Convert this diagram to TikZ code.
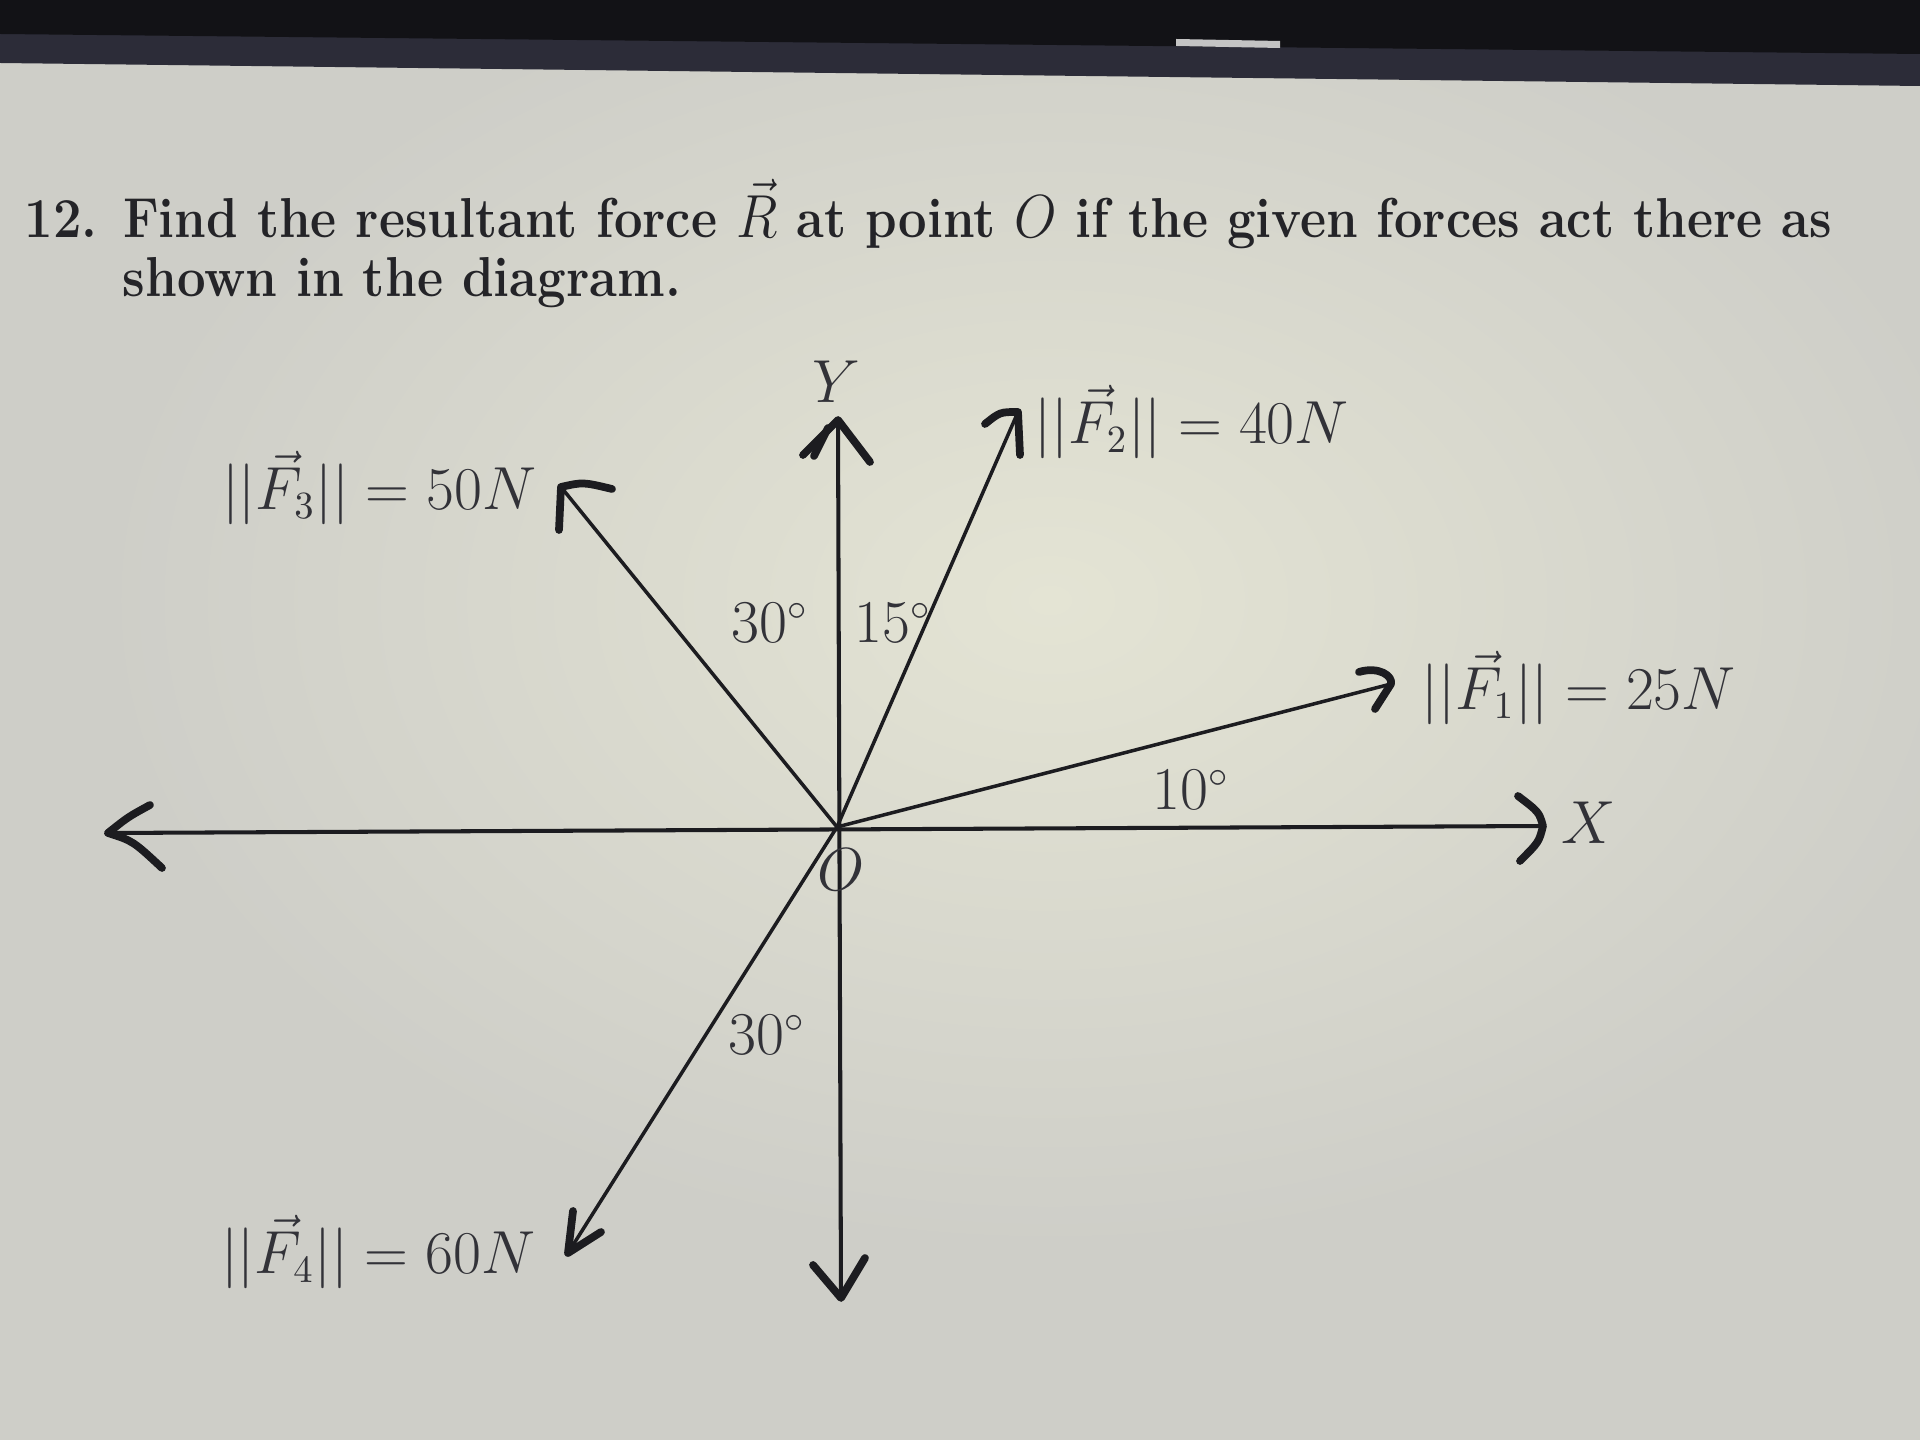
\documentclass[tikz,border=0pt]{standalone}
\usepackage{amsmath}
\usepackage{graphicx}
\usetikzlibrary{calc}
\definecolor{bg}{RGB}{206,206,200}
\definecolor{bglight}{RGB}{228,228,212}
\definecolor{topdark}{RGB}{44,44,56}
\definecolor{topblack}{RGB}{18,18,22}
\definecolor{lightbar}{RGB}{196,196,196}
\definecolor{ink}{RGB}{28,28,32}
\definecolor{txt}{RGB}{36,36,40}
\definecolor{lbltxt}{RGB}{50,50,56}
\begin{document}
\begin{tikzpicture}[x=0.01cm,y=-0.01cm,line cap=round,line join=round,
  axisline/.style={draw=ink,line width=1.15pt},
  forceline/.style={draw=ink,line width=1pt},
  headstroke/.style={draw=ink,line width=2.2pt},
  lbl/.style={inner sep=0pt,text=lbltxt,font=\fontsize{16.2}{20}\selectfont},
  ttl/.style={inner sep=0pt,anchor=base west,text=txt}]
\useasboundingbox (0,0) rectangle (1920,1440);
% background (photo of a screen)
\fill[bg] (0,0) rectangle (1920,1440);
\shade[inner color=bglight,outer color=bg] (1050,600) ellipse [x radius=9.5cm,y radius=6.5cm];
\fill[topdark] (0,0) -- (1920,0) -- (1920,86) -- (0,63) -- cycle;
\fill[topblack] (0,0) -- (1920,0) -- (1920,54) -- (0,34) -- cycle;
\fill[lightbar] (1176,39) -- (1280,41) -- (1280,48) -- (1176,46) -- cycle;
% title
\node[ttl] (t1) at (24,238) {\resizebox{18.06cm}{\height}{\fontsize{16}{19}\selectfont\bfseries 12. Find the resultant force $\vec{R}$ at point $O$ if the given forces act there as}};
\node[ttl] (t2) at (122,297) {\resizebox{5.58cm}{\height}{\fontsize{16}{19}\selectfont\bfseries shown in the diagram.}};
% points
\coordinate (O) at (837,827);
\coordinate (xl) at (108,833);
\coordinate (xr) at (1543,826);
\coordinate (yt) at (838,420);
\coordinate (yb) at (841,1298);
\coordinate (f1) at (1391,684);
\coordinate (f2) at (1018,412);
\coordinate (f3) at (561,487);
\coordinate (f4) at (568,1253);
% axes
\draw[axisline] (xl) -- (xr);
\draw[axisline] (yt) -- (yb);
% forces
\draw[forceline] (O) -- (f1);
\draw[forceline] (O) -- (f2);
\draw[forceline] (O) -- (f3);
\draw[forceline] (O) -- (f4);
% hand-drawn arrow heads
\draw[headstroke] ($(xl)+(42,-28)$) .. controls ($(xl)+(20,-16)$) .. (xl) .. controls ($(xl)+(25,8)$) .. ($(xl)+(54,35)$);
\draw[headstroke] ($(xr)+(-25,-30)$) .. controls ($(xr)+(-4,-14)$) .. (xr) .. controls ($(xr)+(-4,16)$) .. ($(xr)+(-23,35)$);
\draw[headstroke] ($(yt)+(-35,35)$) -- (yt) -- ($(yt)+(32,42)$);
\draw[headstroke] ($(yt)+(-24,36)$) -- ($(yt)+(-10,8)$);
\draw[headstroke] ($(yb)+(-28,-33)$) -- (yb) -- ($(yb)+(24,-40)$);
\draw[headstroke] ($(f1)+(-32,-12)$) .. controls ($(f1)+(-12,-18)$) and ($(f1)+(2,-8)$) .. (f1) -- ($(f1)+(-16,25)$);
\draw[headstroke] ($(f2)+(-33,12)$) .. controls ($(f2)+(-18,0)$) .. (f2) -- ($(f2)+(2,43)$);
\draw[headstroke] ($(f3)+(-2,43)$) -- (f3) .. controls ($(f3)+(22,-5)$) .. ($(f3)+(51,2)$);
\draw[headstroke] ($(f4)+(5,-42)$) -- (f4) -- ($(f4)+(33,-21)$);
% labels
\node[lbl] (ylab) at (836,382) {$Y$};
\node[lbl] (xlab) at (1589,823) {$X$};
\node[lbl] (olab) at (841,870) {$O$};
\node[lbl,anchor=west] (f1lab) at (1421,688) {$||\vec{F}_1|| = 25N$};
\node[lbl,anchor=west] (f2lab) at (1034,422) {$||\vec{F}_2|| = 40N$};
\node[lbl,anchor=east] (f3lab) at (537,488) {$||\vec{F}_3|| = 50N$};
\node[lbl,anchor=east] (f4lab) at (536,1252) {$||\vec{F}_4|| = 60N$};
\node[lbl] (a30u) at (770,623) {$30^\circ$};
\node[lbl] (a15) at (893,623) {$15^\circ$};
\node[lbl] (a10) at (1191,790) {$10^\circ$};
\node[lbl] (a30l) at (767,1035) {$30^\circ$};
\end{tikzpicture}
\end{document}
